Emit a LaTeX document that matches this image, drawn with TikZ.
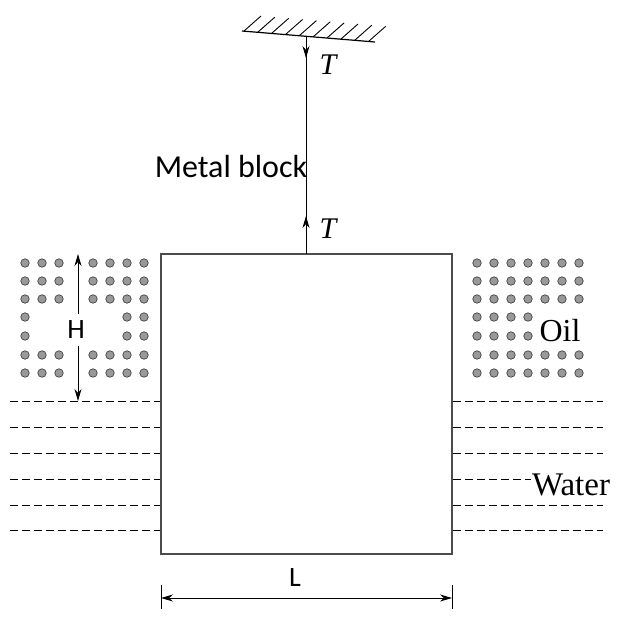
\documentclass[tikz,border=0pt]{standalone}
\usepackage{fontspec}
\newfontfamily\carl{Carlito}
\setmainfont{Liberation Serif}
\usetikzlibrary{arrows.meta,calc}
\begin{document}
\begin{tikzpicture}[x=1pt,y=-1pt,
 dot/.style={circle,fill=gray!80,draw=gray!40!black,line width=0.6pt,inner sep=0,minimum size=8.5pt},
 wline/.style={dash pattern=on 8pt off 4pt,line width=1pt},
 arr/.style={line width=0.9pt,-{Stealth[length=12pt,width=7pt]}},
 lbl/.style={font=\carl\fontsize{32}{32}\selectfont},
 sml/.style={font=\carl\fontsize{28}{28}\selectfont}]
\useasboundingbox (0,0) rectangle (618,622);
% ceiling
\coordinate (c1) at (242,31); \coordinate (c2) at (375,42);
\draw[line width=1.2pt] (c1) -- (c2);
\foreach \i in {0,...,9}{
 \draw[line width=0.9pt] ($(c1)!\i/9.6!(c2)+(2,0)$) -- ++(17,-15);}
% block
\node[draw=gray!60!black,line width=1.2pt,minimum width=291pt,minimum height=300pt,inner sep=0] (blk) at (306.5,404) {};
\coordinate (top) at (306,254); \coordinate (hang) at (306,36.5);
\draw[line width=0.8pt] (hang) -- (top);
\coordinate (a1) at (306,42); \coordinate (a1e) at (306,58);
\draw[arr] (a1) -- (a1e);
\coordinate (a2) at (306,232); \coordinate (a2e) at (306,216);
\draw[arr] (a2) -- (a2e);
\node[font=\itshape\fontsize{30}{30}\selectfont] (t1) at (328,65) {T};
\node[font=\itshape\fontsize{30}{30}\selectfont] (t2) at (328,229) {T};
\node[lbl] (mb) at (231,167) {Metal block};
% dots
\foreach \y [count=\r] in {263,281,299,317,336,355,373}{
 \foreach \x [count=\c] in {25,42,59,93,110,127,144}{
  \pgfmathtruncatemacro\skp{(\r==4 || \r==5) && (\c>1 && \c<6) ? 1 : 0}
  \ifnum\skp=0 \node[dot] at (\x,\y) {};\fi}
 \foreach \x [count=\c] in {477,494,511,528,545,562,579}{
  \pgfmathtruncatemacro\skp{(\r==4 || \r==5) && \c>4 ? 1 : 0}
  \ifnum\skp=0 \node[dot] at (\x,\y) {};\fi}}
\node[font=\fontsize{32}{32}\selectfont] (oil) at (560,331) {Oil};
% water
\foreach \y in {401,427,453,479,505,530}{
 \draw[wline] (10,\y) -- (160,\y);
 \draw[wline] (453,\y) -- (603,\y);}
\node[fill=white,inner sep=1pt,font=\fontsize{33}{33}\selectfont] (wat) at (571,485) {Water};
% H
\coordinate (h1) at (78,254); \coordinate (h2) at (78,401);
\draw[arr] (78,314) -- (h1);
\draw[arr] (78,346) -- (h2);
\node[sml] (H) at (76,330) {H};
% L
\coordinate (l1) at (161,598); \coordinate (l2) at (452,598);
\draw[line width=1pt] (161,585) -- (161,609) (452,585) -- (452,609);
\draw[{Stealth[length=12pt,width=7pt]}-{Stealth[length=12pt,width=7pt]},line width=0.9pt] (l1) -- (l2);
\node[sml] (L) at (295,578) {L};
\end{tikzpicture}
\end{document}
